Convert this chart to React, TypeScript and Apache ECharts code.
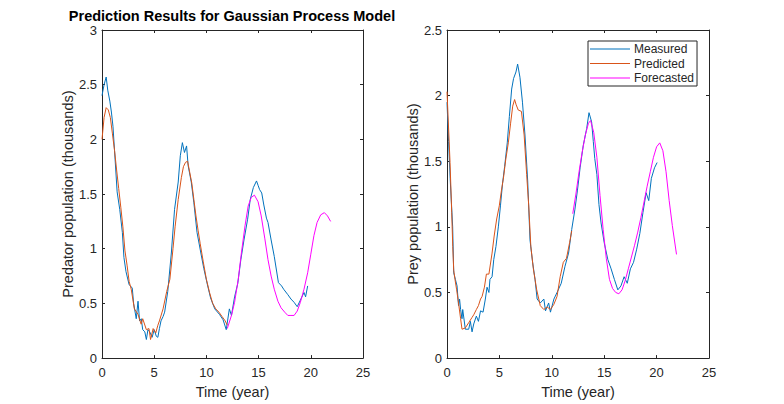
import React, { useEffect, useRef } from 'react';
import * as echarts from 'echarts';

// predator (left panel)
const predMeasT = [0, 0.2, 0.4, 0.55, 0.75, 0.9, 1.05, 1.2, 1.45, 1.7, 1.95, 2.1, 2.3, 2.6, 2.72, 2.9, 3.03, 3.28, 3.45, 3.6, 3.76, 3.9, 4.1, 4.25, 4.4, 4.57, 4.8, 5.0, 5.2, 5.35, 5.5, 5.65, 5.85, 6.0, 6.3, 6.65, 6.95, 7.3, 7.5, 7.7, 7.9, 8.1, 8.25, 8.55, 8.8, 9.1, 9.45, 9.75, 10.1, 10.4, 10.8, 11.25, 11.6, 11.9, 12.2, 12.4, 12.7, 13.0, 13.3, 13.6, 13.95, 14.2, 14.5, 14.8, 14.95, 15.1, 15.3, 15.5, 15.75, 15.9, 16.2, 16.5, 16.9, 17.2, 17.4, 17.8, 18.1, 18.4, 18.7, 19.0, 19.35, 19.5, 19.7];
const predMeasV = [2.40, 2.50, 2.57, 2.45, 2.35, 2.25, 2.12, 1.90, 1.52, 1.36, 1.15, 0.92, 0.79, 0.67, 0.66, 0.64, 0.50, 0.36, 0.52, 0.34, 0.36, 0.26, 0.24, 0.17, 0.26, 0.24, 0.19, 0.26, 0.20, 0.19, 0.27, 0.34, 0.38, 0.42, 0.61, 0.97, 1.36, 1.61, 1.85, 1.97, 1.88, 1.94, 1.76, 1.61, 1.42, 1.15, 0.97, 0.82, 0.67, 0.55, 0.45, 0.40, 0.35, 0.26, 0.45, 0.39, 0.56, 0.68, 0.90, 1.08, 1.27, 1.45, 1.56, 1.62, 1.58, 1.54, 1.51, 1.40, 1.28, 1.24, 1.08, 0.93, 0.69, 0.66, 0.63, 0.58, 0.54, 0.51, 0.47, 0.53, 0.60, 0.56, 0.66];
const predPredT = [0, 0.2, 0.4, 0.6, 0.8, 1.0, 1.2, 1.4, 1.6, 1.8, 2.0, 2.2, 2.4, 2.6, 2.8, 3.1, 3.45, 3.75, 3.9, 4.25, 4.5, 4.65, 4.9, 5.15, 5.35, 5.5, 5.85, 6.2, 6.5, 6.8, 7.0, 7.3, 7.6, 7.8, 8.0, 8.2, 8.4, 8.6, 8.8, 9.0, 9.2, 9.4, 9.7, 10.0, 10.3, 10.6, 10.9, 11.2, 11.5, 11.8, 12.0];
const predPredV = [2.0, 2.2, 2.29, 2.27, 2.2, 2.05, 1.9, 1.72, 1.55, 1.38, 1.2, 0.98, 0.85, 0.7, 0.63, 0.45, 0.40, 0.31, 0.36, 0.26, 0.27, 0.17, 0.27, 0.23, 0.30, 0.34, 0.45, 0.61, 0.72, 1.0, 1.2, 1.45, 1.65, 1.75, 1.79, 1.8, 1.7, 1.6, 1.45, 1.3, 1.17, 1.05, 0.88, 0.72, 0.6, 0.5, 0.45, 0.42, 0.38, 0.34, 0.3];
const predFcT = [12.0, 12.4, 12.7, 13.05, 13.35, 13.7, 14.0, 14.3, 14.6, 14.95, 15.25, 15.6, 15.9, 16.2, 16.5, 16.85, 17.15, 17.5, 17.8, 18.1, 18.4, 18.7, 19.0, 19.35, 19.7, 20.0, 20.3, 20.6, 20.95, 21.3, 21.6, 21.9];
const predFcV = [0.27, 0.39, 0.51, 0.72, 0.96, 1.21, 1.39, 1.47, 1.49, 1.43, 1.30, 1.09, 0.90, 0.75, 0.63, 0.52, 0.46, 0.42, 0.39, 0.39, 0.39, 0.43, 0.51, 0.63, 0.78, 0.95, 1.12, 1.24, 1.31, 1.33, 1.30, 1.25];

// prey (right panel)
const preyMeasT = [0, 0.15, 0.3, 0.54, 0.64, 0.8, 0.96, 1.1, 1.2, 1.3, 1.43, 1.5, 1.75, 2.07, 2.23, 2.39, 2.55, 2.8, 3.0, 3.2, 3.44, 3.66, 3.82, 4.0, 4.1, 4.3, 4.46, 4.67, 4.9, 5.1, 5.3, 5.5, 5.75, 5.95, 6.17, 6.35, 6.58, 6.74, 6.96, 7.2, 7.44, 7.7, 7.92, 8.17, 8.4, 8.6, 8.9, 9.24, 9.4, 9.7, 9.87, 10.2, 10.5, 10.9, 11.26, 11.6, 11.9, 12.2, 12.45, 12.7, 13.0, 13.33, 13.55, 13.8, 13.96, 14.1, 14.3, 14.5, 14.7, 15.0, 15.35, 15.66, 15.97, 16.3, 16.6, 16.9, 17.2, 17.5, 17.8, 18.1, 18.4, 18.7, 19.0, 19.25, 19.5, 19.8, 20.05];
const preyMeasV = [1.95, 1.65, 1.37, 1.00, 0.65, 0.60, 0.55, 0.40, 0.45, 0.37, 0.30, 0.37, 0.22, 0.22, 0.28, 0.20, 0.26, 0.32, 0.28, 0.36, 0.35, 0.45, 0.54, 0.50, 0.60, 0.62, 0.75, 0.85, 1.00, 1.16, 1.33, 1.46, 1.64, 1.84, 2.05, 2.13, 2.18, 2.24, 2.14, 1.95, 1.70, 1.35, 0.90, 0.73, 0.60, 0.45, 0.42, 0.45, 0.36, 0.42, 0.35, 0.45, 0.50, 0.57, 0.70, 0.80, 0.98, 1.13, 1.28, 1.45, 1.62, 1.75, 1.87, 1.80, 1.65, 1.52, 1.40, 1.17, 1.03, 0.88, 0.75, 0.68, 0.60, 0.52, 0.55, 0.62, 0.57, 0.68, 0.73, 0.83, 0.95, 1.11, 1.26, 1.20, 1.37, 1.45, 1.49];
const preyPredT = [0, 0.29, 0.45, 0.55, 0.64, 0.8, 0.92, 1.1, 1.3, 1.43, 1.75, 2.07, 2.39, 2.55, 2.8, 3.0, 3.2, 3.35, 3.57, 3.76, 4.0, 4.3, 4.5, 4.74, 4.99, 5.2, 5.4, 5.6, 5.85, 6.07, 6.27, 6.45, 6.6, 6.8, 7.1, 7.36, 7.6, 7.8, 8.0, 8.24, 8.56, 8.9, 9.24, 9.55, 9.87, 10.2, 10.5, 10.8, 11.1, 11.4, 11.7, 11.9];
const preyPredV = [2.03, 1.49, 1.11, 0.85, 0.67, 0.58, 0.52, 0.42, 0.30, 0.22, 0.23, 0.27, 0.31, 0.33, 0.37, 0.40, 0.45, 0.47, 0.54, 0.64, 0.64, 0.80, 0.93, 1.06, 1.16, 1.28, 1.38, 1.51, 1.64, 1.79, 1.92, 1.97, 1.93, 1.89, 1.88, 1.70, 1.40, 1.16, 0.85, 0.68, 0.52, 0.40, 0.37, 0.39, 0.37, 0.41, 0.47, 0.62, 0.73, 0.76, 0.88, 0.97];
const preyFcT = [12.0, 12.3, 12.6, 12.9, 13.2, 13.5, 13.7, 14.0, 14.3, 14.6, 14.9, 15.2, 15.5, 15.8, 16.1, 16.4, 16.7, 17.0, 17.3, 17.6, 17.9, 18.2, 18.5, 18.8, 19.1, 19.4, 19.7, 20.0, 20.3, 20.6, 20.9, 21.2, 21.5, 21.9];
const preyFcV = [1.10, 1.25, 1.42, 1.57, 1.70, 1.79, 1.81, 1.72, 1.53, 1.24, 0.98, 0.76, 0.60, 0.53, 0.50, 0.49, 0.52, 0.59, 0.68, 0.77, 0.86, 0.96, 1.07, 1.19, 1.31, 1.42, 1.53, 1.61, 1.64, 1.58, 1.42, 1.20, 1.01, 0.79];

const seriesNames = ['Measured', 'Predicted', 'Forecasted'];
const seriesColors = ['#0072BD', '#D95319', '#FF00FF'];
const chartTitle = 'Prediction Results for Gaussian Process Model';
const xLabel = 'Time (year)';
const yLabels = ['Predator population (thousands)', 'Prey population (thousands)'];
const yMaxes = [3, 2.5];

const FONT = 'Arial, "Liberation Sans", Helvetica, sans-serif';
const INK = '#262626';

const zip = (t: number[], v: number[]) => t.map((x, i) => [x, v[i]]);

const App: React.FC = () => {
  const chartRef = useRef<HTMLDivElement>(null);

  useEffect(() => {
    document.body.style.margin = '0';
    if (!chartRef.current) return;
    const chart = echarts.init(chartRef.current, undefined, { renderer: 'svg' });

    const axisLine = { show: true, onZero: false, lineStyle: { color: INK, width: 1 } };
    const axisTick = { show: true, inside: true, length: 3, lineStyle: { color: INK, width: 1 } };
    const axisLabel = { color: INK, fontFamily: FONT, fontSize: 13 };
    const nameTextStyle = { color: INK, fontFamily: FONT, fontSize: 14.5 };

    const xAxes: any[] = [];
    const yAxes: any[] = [];
    [0, 1].forEach((g) => {
      xAxes.push({
        type: 'value', gridIndex: g, min: 0, max: 25, interval: 5, position: 'bottom',
        axisLine, axisTick, splitLine: { show: false },
        axisLabel: { ...axisLabel, margin: 8 },
        name: xLabel, nameLocation: 'middle', nameGap: 23, nameTextStyle,
      });
      xAxes.push({
        type: 'value', gridIndex: g, min: 0, max: 25, interval: 5, position: 'top',
        axisLine, axisTick, splitLine: { show: false }, axisLabel: { show: false },
      });
      yAxes.push({
        type: 'value', gridIndex: g, min: 0, max: yMaxes[g], interval: 0.5, position: 'left',
        axisLine, axisTick, splitLine: { show: false },
        axisLabel: { ...axisLabel, margin: 5 },
        name: yLabels[g], nameLocation: 'middle', nameGap: 27, nameTextStyle,
      });
      yAxes.push({
        type: 'value', gridIndex: g, min: 0, max: yMaxes[g], interval: 0.5, position: 'right',
        axisLine, axisTick, splitLine: { show: false }, axisLabel: { show: false },
      });
    });

    const line = (name: string, color: string, data: number[][], g: number) => ({
      name, type: 'line', data, xAxisIndex: g * 2, yAxisIndex: g * 2,
      showSymbol: false, symbol: 'none',
      lineStyle: { color, width: 1 }, itemStyle: { color },
    });

    chart.setOption({
      animation: false,
      backgroundColor: '#ffffff',
      grid: [
        { left: 102, top: 30, width: 261, height: 329 },
        { left: 447, top: 30, width: 262, height: 329 },
      ],
      graphic: [{
        type: 'text', x: 232, y: 16,
        style: {
          text: chartTitle, fill: '#000000', font: `bold 14.5px ${FONT}`,
          align: 'center', verticalAlign: 'middle',
        },
      }],
      legend: {
        data: seriesNames, orient: 'vertical', left: 588, top: 41,
        icon: 'path://M0,0H40V1H0Z', symbolKeepAspect: true,
        itemWidth: 40, itemHeight: 12, itemGap: 2.5, padding: [2, 3, 2, 2],
        borderColor: INK, borderWidth: 1, backgroundColor: '#ffffff',
        textStyle: { color: INK, fontFamily: FONT, fontSize: 12, padding: [0, 0, 0, -1] },
      },
      xAxis: xAxes,
      yAxis: yAxes,
      series: [
        line(seriesNames[0], seriesColors[0], zip(predMeasT, predMeasV), 0),
        line(seriesNames[1], seriesColors[1], zip(predPredT, predPredV), 0),
        line(seriesNames[2], seriesColors[2], zip(predFcT, predFcV), 0),
        line(seriesNames[0], seriesColors[0], zip(preyMeasT, preyMeasV), 1),
        line(seriesNames[1], seriesColors[1], zip(preyPredT, preyPredV), 1),
        line(seriesNames[2], seriesColors[2], zip(preyFcT, preyFcV), 1),
      ],
    });

    return () => chart.dispose();
  }, []);

  return <div ref={chartRef} style={{ width: 784, height: 404 }} />;
};

export default App;
